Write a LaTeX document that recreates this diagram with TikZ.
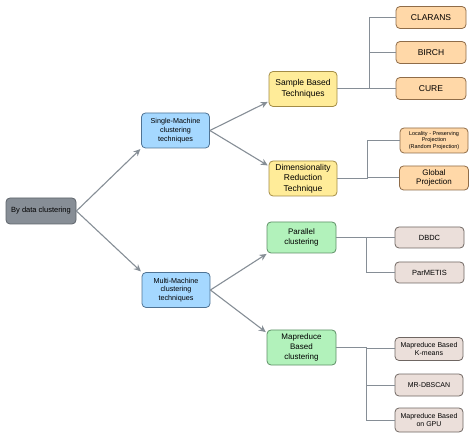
\documentclass[tikz,border=0pt]{standalone}
\usepackage{fontspec}
\setmainfont{Liberation Sans}
\usepackage{xcolor}
\usetikzlibrary{arrows.meta}
\definecolor{rootfill}{HTML}{878E96}
\definecolor{rootline}{HTML}{5E646B}
\definecolor{bluefill}{HTML}{A5D8FF}
\definecolor{blueline}{HTML}{4F7394}
\definecolor{yellowfill}{HTML}{FFEC99}
\definecolor{yellowline}{HTML}{A38C45}
\definecolor{greenfill}{HTML}{B2F2BB}
\definecolor{greenline}{HTML}{5E8F66}
\definecolor{orangefill}{HTML}{FFD8A8}
\definecolor{orangeline}{HTML}{8F6C48}
\definecolor{leaffill}{HTML}{EBDFDA}
\definecolor{leafline}{HTML}{6F6662}
\definecolor{linkgray}{HTML}{868E96}

\tikzset{
  box/.style={draw, rounded corners=4pt, line width=0.8pt, align=center, inner sep=1pt},
  rootbox/.style={box, fill=rootfill, draw=rootline, minimum width=70pt, minimum height=26pt,
    font=\fontsize{7.5}{9}\selectfont},
  machinebox/.style={box, fill=bluefill, draw=blueline, minimum width=68pt, minimum height=35pt,
    font=\fontsize{7.2}{8.8}\selectfont},
  singlebox/.style={box, fill=yellowfill, draw=yellowline, minimum width=68pt, minimum height=35pt,
    font=\fontsize{8.5}{10.5}\selectfont},
  multibox/.style={box, fill=greenfill, draw=greenline, minimum width=69pt,
    font=\fontsize{8}{10}\selectfont},
  orangeleaf/.style={box, fill=orangefill, draw=orangeline, minimum width=70pt},
  pinkleaf/.style={box, fill=leaffill, draw=leafline, minimum width=68pt},
  arr/.style={draw=linkgray, line width=1.1pt, -{Stealth[length=7pt, width=6.5pt]}, shorten >=1pt},
  link/.style={draw=linkgray, line width=1pt}
}

\begin{document}
\begin{tikzpicture}[x=1pt, y=-1pt]
  \useasboundingbox (0,0) rectangle (474,438);

  % root and the two machine groups
  \node[rootbox] (root) at (41,211) {By data clustering};
  \node[machinebox] (single) at (175.5,130.5) {Single-Machine\\clustering\\techniques};
  \node[machinebox] (multi) at (176,290) {Multi-Machine\\clustering\\techniques};

  % technique groups
  \node[singlebox] (sample) at (303,89) {Sample Based\\Techniques};
  \node[singlebox] (dimred) at (303,178.5) {Dimensionality\\Reduction\\Technique};
  \node[multibox, minimum height=31pt] (parallel) at (301.5,237.5) {Parallel\\clustering};
  \node[multibox, minimum height=35pt] (mapred) at (301.5,347.5) {Mapreduce\\Based\\clustering};

  % leaves
  \node[orangeleaf, minimum height=22pt, font=\fontsize{8.5}{10}\selectfont] (clarans) at (431,17.5) {CLARANS};
  \node[orangeleaf, minimum height=22pt, font=\fontsize{8.5}{10}\selectfont] (birch) at (431,52.5) {BIRCH};
  \node[orangeleaf, minimum height=22pt, font=\fontsize{8.5}{10}\selectfont] (cure) at (431,88.5) {CURE};
  \node[orangeleaf, minimum width=68pt, minimum height=25pt, font=\fontsize{5.5}{6.2}\selectfont] (locality) at (434,140.5)
    {Locality - Preserving\\Projection\\(Random Projection)};
  \node[orangeleaf, minimum width=69pt, minimum height=24pt, font=\fontsize{8}{9.5}\selectfont] (global) at (434,178)
    {Global\\Projection};

  \node[pinkleaf, minimum width=69pt, minimum height=21pt, font=\fontsize{7.5}{9}\selectfont] (dbdc) at (429.5,237.5) {DBDC};
  \node[pinkleaf, minimum width=69pt, minimum height=21pt, font=\fontsize{7.5}{9}\selectfont] (parmetis) at (429.5,272.5) {ParMETIS};
  \node[pinkleaf, minimum height=23pt, font=\fontsize{7}{8}\selectfont] (kmeans) at (429,349) {Mapreduce Based\\K-means};
  \node[pinkleaf, minimum height=22pt, font=\fontsize{7}{8.5}\selectfont] (mrdbscan) at (429,385) {MR-DBSCAN};
  \node[pinkleaf, minimum height=24pt, font=\fontsize{7}{8}\selectfont] (gpu) at (429,420) {Mapreduce Based\\on GPU};

  % arrows
  \draw[arr] (root.east) -- (single.south west);
  \draw[arr] (root.east) -- (multi.north west);
  \draw[arr] (single.east) -- (sample.200);
  \draw[arr] (single.east) -- (dimred.160);
  \draw[arr] (multi.east) -- (parallel.205);
  \draw[arr] (multi.east) -- (mapred.157);

  % brackets to the leaves
  \coordinate (tsample) at (369,89);
  \coordinate (tdimred) at (367,178.5);
  \coordinate (tparallel) at (366,237.5);
  \coordinate (tmapred) at (366,347.5);
  \draw[link] (sample.east) -- (tsample);
  \foreach \leaf in {clarans, birch, cure}
    \draw[link] (tsample) |- (\leaf.west);
  \draw[link] (dimred.east) -- (tdimred);
  \foreach \leaf in {locality, global}
    \draw[link] (tdimred) |- (\leaf.west);
  \draw[link] (parallel.east) -- (tparallel);
  \foreach \leaf in {dbdc, parmetis}
    \draw[link] (tparallel) |- (\leaf.west);
  \draw[link] (mapred.east) -- (tmapred);
  \foreach \leaf in {kmeans, mrdbscan, gpu}
    \draw[link] (tmapred) |- (\leaf.west);
\end{tikzpicture}
\end{document}
